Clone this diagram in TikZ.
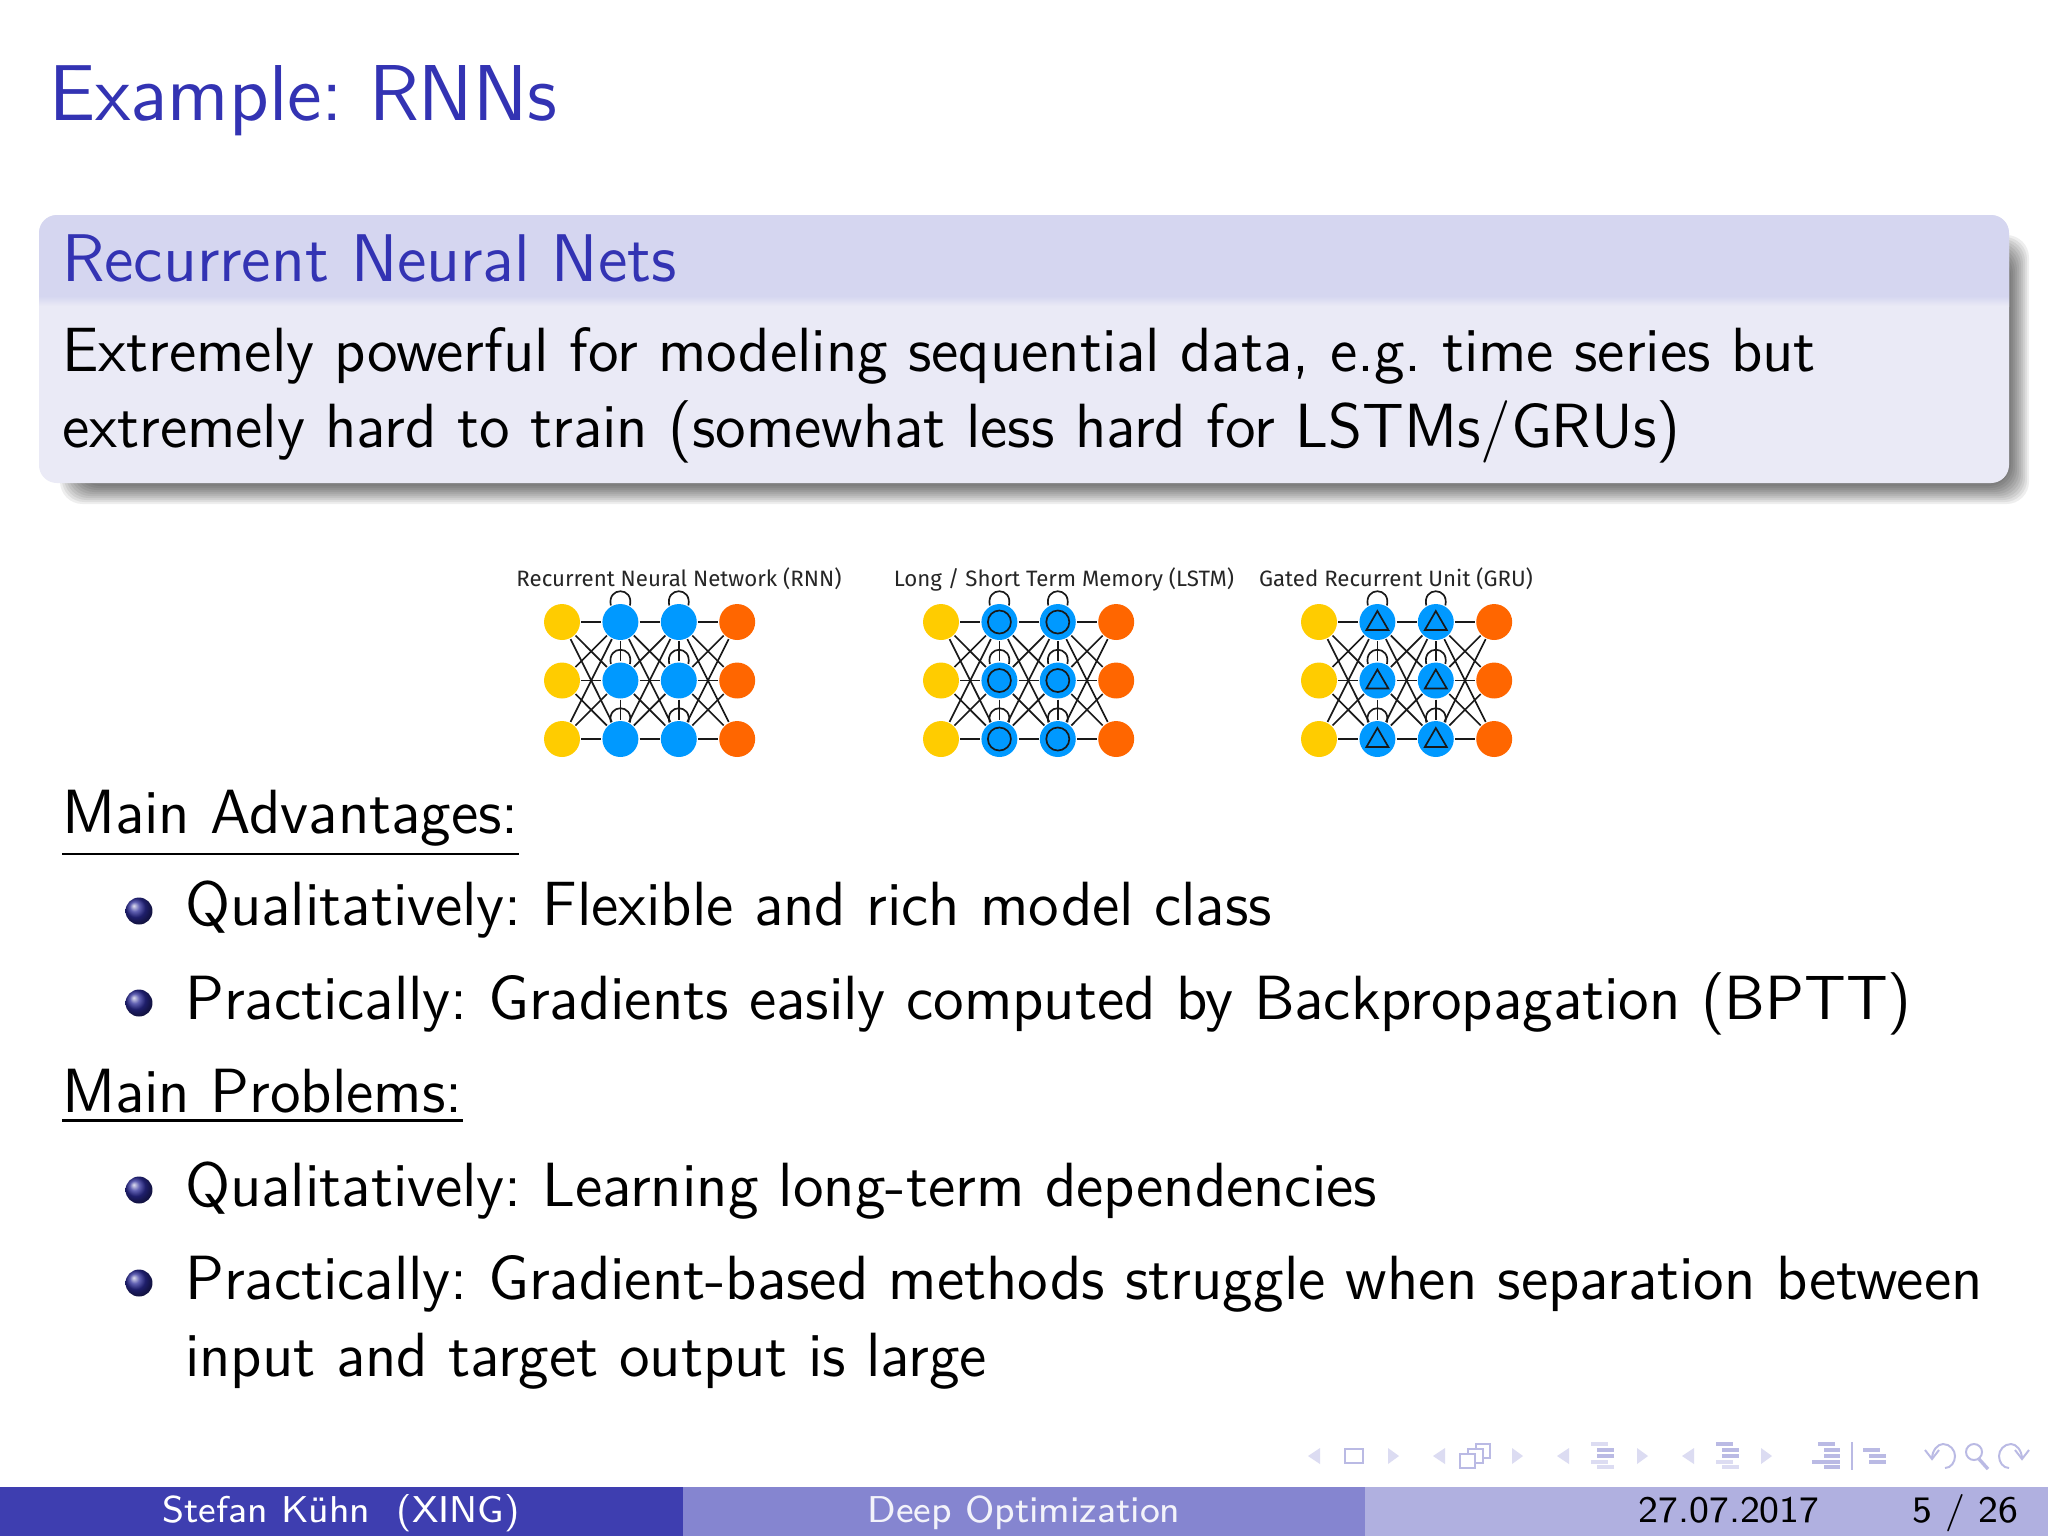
\documentclass[tikz,border=0pt]{standalone}
\usepackage{fontspec}
\newfontfamily\netfont{Fira Sans}
\usetikzlibrary{shadings}

\definecolor{structblue}{RGB}{51,51,179}
\definecolor{headblue}{RGB}{213,214,240}
\definecolor{bodyblue}{RGB}{234,234,246}
\definecolor{footdark}{RGB}{62,62,176}
\definecolor{footmid}{RGB}{133,133,208}
\definecolor{footlight}{RGB}{176,176,224}
\definecolor{inyellow}{RGB}{255,204,0}
\definecolor{hidblue}{RGB}{0,153,255}
\definecolor{outorange}{RGB}{255,102,0}
\definecolor{navfaint}{RGB}{220,220,242}
\definecolor{navmid}{RGB}{186,186,228}

\tikzset{
  slidetext/.style={anchor=base west, inner sep=0pt, scale=1.0106, transform shape, font=\fontsize{11pt}{13pt}\selectfont\sffamily\frenchspacing},
  blocktitle/.style={anchor=base west, inner sep=0pt, text=structblue, font=\fontsize{12pt}{14pt}\selectfont\sffamily},
  foottext/.style={anchor=base, inner sep=0pt, font=\fontsize{6.65pt}{8pt}\selectfont\sffamily},
  netlabel/.style={anchor=base, inner sep=0pt, text=black!85, font=\fontsize{3.96pt}{5pt}\selectfont\netfont},
  ballmark/.style={circle, inner sep=0pt, minimum size=4.8pt, shading=ball, ball color=structblue!85!black},
  innode/.style={circle, inner sep=0pt, minimum size=6.4pt, fill=inyellow},
  hidnode/.style={innode, fill=hidblue},
  outnode/.style={innode, fill=outorange},
  netline/.style={black!90, line width=0.3pt},
  navline/.style={navmid, line width=0.35pt},
}

\newcommand{\nomark}[1]{}
\newcommand{\circmark}[1]{\node[circle, draw=black!90, line width=0.3pt, inner sep=0pt, minimum size=4.1pt] (#1c) at (#1) {};}
\newcommand{\trimark}[1]{\draw[netline] (#1.center) ++(-11,8) -- ++(11,-19) -- ++(11,19) -- cycle;}

% prefix, x of first column, mark inside the hidden nodes
\newcommand{\recnet}[3]{
  \foreach \row/\rowy in {1/622,2/680.5,3/739} {
    \node[innode] (#1i\row) at (#2,\rowy) {};
    \node[hidnode] (#1a\row) at (#2+58.4,\rowy) {};
    \node[hidnode] (#1b\row) at (#2+116.8,\rowy) {};
    \node[outnode] (#1o\row) at (#2+175.2,\rowy) {};
    #3{#1a\row}
    #3{#1b\row}
  }
  \foreach \row in {1,2,3} {
    \foreach \col in {1,2,3} {
      \draw[netline] (#1i\row) -- (#1a\col);
      \draw[netline] (#1a\row) -- (#1b\col);
      \draw[netline] (#1b\row) -- (#1o\col);
    }
    \draw[netline] (#1a\row.120) .. controls +(-4,-19) and +(4,-19) .. (#1a\row.60);
    \draw[netline] (#1b\row.120) .. controls +(-4,-19) and +(4,-19) .. (#1b\row.60);
  }
  \draw[netline] (#1a1) -- (#1a2);
  \draw[netline] (#1a2) -- (#1a3);
  \draw[netline] (#1b1) -- (#1b2);
  \draw[netline] (#1b2) -- (#1b3);
}

\begin{document}
\begin{tikzpicture}[x=0.00625cm,y=-0.00625cm]
  \useasboundingbox (0,0) rectangle (2048,1536);
  \fill[white] (0,0) rectangle (2048,1536);

  \node[anchor=base west, inner sep=0pt, text=structblue, font=\fontsize{14.1pt}{17pt}\selectfont\sffamily\frenchspacing] (frametitle) at (48,120) {Example: RNNs};

  % block with its shadow
  \foreach \i in {0,...,9} {
    \fill[black, opacity=0.065, rounded corners=4pt] (60+2*\i,235+2*\i) rectangle (2029-2*\i,504-2*\i);
  }
  \fill[bodyblue, rounded corners=3.2pt] (39,215) rectangle (2009,483);
  \fill[headblue, rounded corners=3.2pt] (39,296) -- (39,215) -- (2009,215) -- (2009,296);
  \shade[top color=headblue, bottom color=bodyblue] (39,296) rectangle (2009,306);
  \node[blocktitle] (blockhead) at (61,281) {Recurrent Neural Nets};
  \node[slidetext] (blockone) at (61,371) {Extremely powerful for modeling sequential data, e.g. time series but};
  \node[slidetext] (blocktwo) at (61,447) {extremely hard to train (somewhat less hard for LSTMs/GRUs)};

  % the three networks
  \node[netlabel] (rnnlabel) at (679,586) {Recurrent Neural Network (RNN)};
  \node[netlabel] (lstmlabel) at (1064,586) {Long / Short Term Memory (LSTM)};
  \node[netlabel] (grulabel) at (1396,586) {Gated Recurrent Unit (GRU)};
  \recnet{r}{562}{\nomark}
  \recnet{l}{941}{\circmark}
  \recnet{g}{1319}{\trimark}

  % lists
  \node[slidetext] (advhead) at (61,833) {\underline{Main Advantages:}};
  \node[ballmark] (ballone) at (139,911) {};
  \node[slidetext] (advone) at (184,925) {Qualitatively: Flexible and rich model class};
  \node[ballmark] (balltwo) at (139,1003) {};
  \node[slidetext] (advtwo) at (184,1019) {Practically: Gradients easily computed by Backpropagation (BPTT)};
  \node[slidetext] (probhead) at (61,1112) {\underline{Main Problems:}};
  \node[ballmark] (ballthree) at (139,1190) {};
  \node[slidetext] (probone) at (184,1206) {Qualitatively: Learning long-term dependencies};
  \node[ballmark] (ballfour) at (139,1283) {};
  \node[slidetext] (probtwo) at (184,1299) {Practically: Gradient-based methods struggle when separation between};
  \node[slidetext] (probthree) at (184,1376) {input and target output is large};

  % navigation symbols
  \foreach \x in {1308,1433,1557,1682} {
    \fill[navfaint] (\x,1456) -- (\x+12,1448) -- (\x+12,1464) -- cycle;
  }
  \foreach \x in {1388,1512,1637,1761} {
    \fill[navfaint] (\x+11,1456) -- (\x,1448) -- (\x,1464) -- cycle;
  }
  \draw[navline] (1345,1449) rectangle (1363,1463);
  \draw[navline, fill=white] (1476,1444) rectangle (1490,1458);
  \draw[navline, fill=white] (1468,1449) rectangle (1483,1463);
  \draw[navline, fill=white] (1460,1454) rectangle (1475,1468);
  \foreach \y/\a/\b/\c in {1444/1591/1608/navfaint,1450/1597/1614/navmid,1456/1597/1614/navmid,1462/1591/1608/navfaint,1467/1597/1614/navfaint} {
    \draw[\c, line width=0.55pt] (\a,\y) -- (\b,\y);
  }
  \foreach \y/\a/\b/\c in {1444/1716/1733/navmid,1450/1722/1739/navmid,1456/1722/1739/navmid,1462/1716/1733/navfaint,1467/1722/1739/navfaint} {
    \draw[\c, line width=0.55pt] (\a,\y) -- (\b,\y);
  }
  \foreach \y/\a/\b in {1444/1818/1835,1450/1824/1840,1456/1824/1840,1462/1812/1840,1467/1824/1840} {
    \draw[navmid, line width=0.55pt] (\a,\y) -- (\b,\y);
  }
  \draw[navmid, line width=0.2pt] (1852,1442) -- (1852,1470);
  \foreach \y/\a/\b in {1450/1863/1880,1456/1869/1886,1462/1869/1886} {
    \draw[navmid, line width=0.55pt] (\a,\y) -- (\b,\y);
  }
  \draw[navline] (1932,1459) .. controls (1932,1450) and (1938,1444) .. (1943,1444) .. controls (1950,1444) and (1955,1450) .. (1955,1456) .. controls (1955,1462) and (1951,1468) .. (1945,1468);
  \draw[navline] (1925,1450) -- (1932,1459) -- (1939,1450);
  \draw[navline] (1974,1452) circle [radius=8];
  \draw[navmid, line width=0.6pt] (1979,1459) -- (1988,1469);
  \draw[navline] (2022,1459) .. controls (2022,1450) and (2016,1444) .. (2011,1444) .. controls (2004,1444) and (1999,1450) .. (1999,1456) .. controls (1999,1462) and (2003,1468) .. (2009,1468);
  \draw[navline] (2015,1450) -- (2022,1459) -- (2029,1450);

  % footline
  \fill[footdark] (0,1487) rectangle (683,1536);
  \fill[footmid] (683,1487) rectangle (1365,1536);
  \fill[footlight] (1365,1487) rectangle (2048,1536);
  \node[foottext, text=white] (footauthor) at (341,1522) {Stefan K\"uhn\ \ (XING)};
  \node[foottext, text=white!90!footmid] (foottitle) at (1024,1522) {Deep Optimization};
  \node[foottext] (footdate) at (1729,1522) {27.07.2017};
  \node[foottext] (footpage) at (1965,1522) {5 / 26};
\end{tikzpicture}
\end{document}
